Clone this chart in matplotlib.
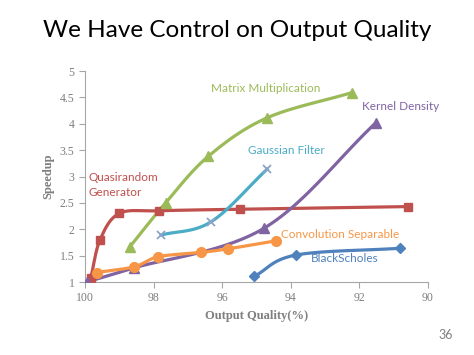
import matplotlib
matplotlib.use("Agg")
import matplotlib.pyplot as plt
import numpy as np

# values (x = output quality %, y = speedup)
quasi_x = [99.83, 99.56, 99.0, 97.83, 95.47, 90.57]
quasi_y = [1.08, 1.80, 2.30, 2.35, 2.38, 2.43]
matrix_x = [98.69, 97.65, 96.41, 94.70, 92.22]
matrix_y = [1.67, 2.50, 3.38, 4.11, 4.59]
gauss_x = [97.78, 96.33, 94.69]
gauss_y = [1.89, 2.14, 3.14]
kernel_x = [99.95, 98.56, 94.78, 91.52]
kernel_y = [1.00, 1.27, 2.02, 4.02]
conv_x = [99.66, 98.56, 97.86, 96.62, 95.82, 94.44]
conv_y = [1.18, 1.29, 1.48, 1.56, 1.63, 1.78]
black_x = [95.06, 93.86, 90.81]
black_y = [1.11, 1.51, 1.64]

series = [
    ("Quasirandom\nGenerator", quasi_x, quasi_y, "#C0504D", "s", (99.9, 2.84), "left"),
    ("Matrix Multiplication", matrix_x, matrix_y, "#9BBB59", "^", (94.72, 4.66), "center"),
    ("Gaussian Filter", gauss_x, gauss_y, "#4BACC6", "x", (94.14, 3.50), "center"),
    ("Kernel Density", kernel_x, kernel_y, "#8064A2", "^", (90.8, 4.32), "center"),
    ("Convolution Separable", conv_x, conv_y, "#F79646", "o", (92.57, 1.91), "center"),
    ("BlackScholes", black_x, black_y, "#4F81BD", "D", (92.42, 1.44), "center"),
]


def smooth(x, y, n=30):
    # Catmull-Rom curve through the points, like a spreadsheet "smoothed line"
    p = np.column_stack([x, y]).astype(float)
    if len(p) < 3:
        return p[:, 0], p[:, 1]
    pts = np.vstack([2 * p[0] - p[1], p, 2 * p[-1] - p[-2]])
    out = []
    t = np.linspace(0, 1, n)[:, None]
    for i in range(1, len(pts) - 2):
        p0, p1, p2, p3 = pts[i - 1], pts[i], pts[i + 1], pts[i + 2]
        seg = 0.5 * ((2 * p1) + (-p0 + p2) * t
                     + (2 * p0 - 5 * p1 + 4 * p2 - p3) * t ** 2
                     + (-p0 + 3 * p1 - 3 * p2 + p3) * t ** 3)
        out.append(seg)
    c = np.vstack(out)
    return c[:, 0], c[:, 1]


fig = plt.figure(figsize=(4.74, 3.55), dpi=100)
ax = fig.add_axes([0.1793, 0.2056, 0.7237, 0.5944])

for name, xs, ys, col, mk, (tx, ty), ha in series:
    sx, sy = smooth(xs, ys)
    ax.plot(sx, sy, color=col, lw=2.3, zorder=2)
    if mk == "x":
        ax.plot(xs, ys, ls="none", marker="x", ms=6, mew=1.3, color="#8EA3C8", zorder=3)
    else:
        ms = {"s": 6, "^": 6.5, "o": 7, "D": 5}[mk]
        ax.plot(xs, ys, ls="none", marker=mk, ms=ms, color=col, zorder=3)
    ax.text(tx, ty, name, color=col, ha=ha, va="center", fontsize=8.5,
            family="Lato", linespacing=1.4)

ax.set_xlim(100, 90)
ax.set_ylim(1, 5)
ax.set_xticks([100, 98, 96, 94, 92, 90])
ax.set_yticks([1, 1.5, 2, 2.5, 3, 3.5, 4, 4.5, 5])
ax.set_yticklabels(["1", "1.5", "2", "2.5", "3", "3.5", "4", "4.5", "5"])
for s in ["top", "right"]:
    ax.spines[s].set_visible(False)
for s in ["left", "bottom"]:
    ax.spines[s].set_color("#A6A6A6")
ax.tick_params(colors="#A6A6A6", labelcolor="#7F7F7F", length=4, labelsize=8.5)
for lab in ax.get_xticklabels() + ax.get_yticklabels():
    lab.set_family("Liberation Serif")
ax.set_xlabel("Output Quality(%)", family="Liberation Serif", fontweight="bold",
              color="#7F7F7F", fontsize=9, labelpad=4)
ax.set_ylabel("Speedup", family="Liberation Serif", fontweight="bold",
              color="#7F7F7F", fontsize=9, labelpad=4)

fig.text(0.5, 0.915, "We Have Control on Output Quality", ha="center", va="center",
         fontsize=17.5, family="Lato", color="black")
fig.text(0.94, 0.055, "36", ha="center", va="center", fontsize=9, family="Lato",
         color="#7F7F7F")

fig.savefig("out.png", dpi=100)
